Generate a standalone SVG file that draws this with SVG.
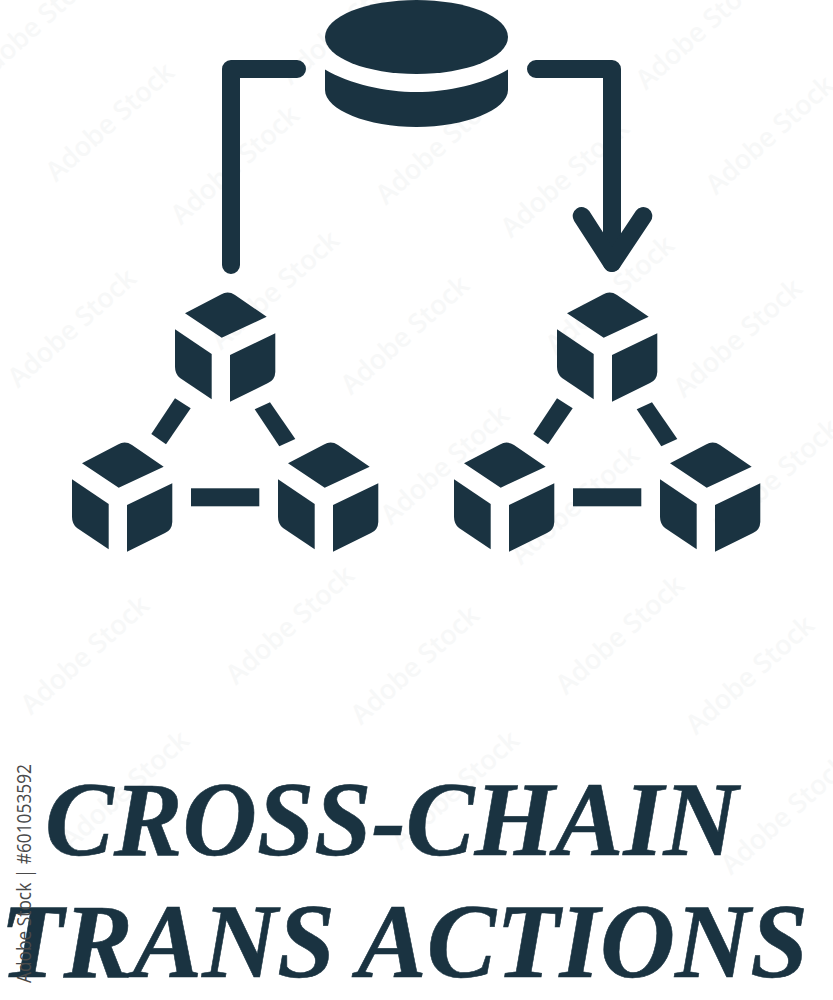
<svg xmlns="http://www.w3.org/2000/svg" width="833" height="1000" viewBox="0 0 833 1000">
  <style>
    .ink { fill: #1a3341; }
    .wire { fill: none; stroke: #1a3341; stroke-width: 18; stroke-linecap: round; stroke-linejoin: round; }
    .title { font-family: "Liberation Serif", "Times New Roman", serif; font-style: italic; font-weight: 700; font-size: 105px; fill: #1a3341; stroke: #1a3341; stroke-width: 0.6; }
    .credit { font-family: "Open Sans", "Noto Sans", sans-serif; font-size: 20px; fill: #4a4a4a; }
    .mark { font-family: "Open Sans", "Noto Sans", sans-serif; font-size: 27px; font-weight: 600; fill: #f7f8f8; text-anchor: middle; }
  </style>
  <defs>
    <text id="wm" class="mark" transform="rotate(-42)" y="9">Adobe Stock</text>
    <g id="cube" class="ink">
      <path d="M185 313.3 L221.7 337.7 L266.7 316.7 L235 295 Q228 290.5 221 294.5 Z"/>
      <path d="M175 329.3 L211.7 354 V399.3 L180 378 Q175 374 175 367 Z"/>
      <path d="M230 355 L275.3 333.3 V372 Q275 380 268 383 L230 401.7 Z"/>
    </g>
    <g id="chain">
      <use href="#cube"/>
      <use href="#cube" x="-103" y="150"/>
      <use href="#cube" x="103" y="150"/>
      <g class="ink">
        <polygon points="175,398.3 190.7,408.3 166,444.3 151.3,434"/>
        <polygon points="254.7,409.3 270,402.3 295.3,439 279.3,446.3"/>
        <rect x="191" y="488.3" width="68.3" height="18"/>
      </g>
    </g>
  </defs>
  <rect width="833" height="1000" fill="#ffffff"/>
  <g id="watermark">
    <use href="#wm" transform="translate(35 25)"/><use href="#wm" transform="translate(110 122)"/><use href="#wm" transform="translate(235 165)"/>
    <use href="#wm" transform="translate(345 25)"/><use href="#wm" transform="translate(440 145)"/><use href="#wm" transform="translate(565 178)"/>
    <use href="#wm" transform="translate(700 30)"/><use href="#wm" transform="translate(770 135)"/>
    <use href="#wm" transform="translate(72 328)"/><use href="#wm" transform="translate(275 290)"/><use href="#wm" transform="translate(405 335)"/>
    <use href="#wm" transform="translate(610 295)"/><use href="#wm" transform="translate(738 338)"/>
    <use href="#wm" transform="translate(445 465)"/><use href="#wm" transform="translate(575 505)"/><use href="#wm" transform="translate(775 478)"/>
    <use href="#wm" transform="translate(85 655)"/><use href="#wm" transform="translate(290 625)"/><use href="#wm" transform="translate(415 665)"/>
    <use href="#wm" transform="translate(620 635)"/><use href="#wm" transform="translate(750 675)"/>
    <use href="#wm" transform="translate(125 790)"/><use href="#wm" transform="translate(455 790)"/><use href="#wm" transform="translate(785 815)"/>
  </g>
  <g id="node-disk" class="ink">
    <ellipse cx="416.5" cy="37" rx="91.5" ry="37"/>
    <path d="M325 69.5 C350 84 385 92 416.5 92 C448 92 483 84 508 69.5 V90 C508 110 465 127 416.5 127 C368 127 325 110 325 90 Z"/>
  </g>
  <g id="connectors">
    <path class="wire" d="M297 69 H231 V265"/>
    <path class="wire" d="M536 69 H612 V263"/>
    <path class="wire" d="M581.7 216 L612 263 L643.3 216"/>
  </g>
  <g id="node-chain-left"><use href="#chain"/></g>
  <g id="node-chain-right"><use href="#chain" x="382"/></g>
  <g id="labels">
    <text class="title" x="45" y="855" textLength="693" lengthAdjust="spacingAndGlyphs">CROSS-CHAIN</text>
    <text class="title" x="0" y="977" textLength="808" lengthAdjust="spacingAndGlyphs">TRANS ACTIONS</text>
    <text class="credit" transform="translate(31 983) rotate(-90)" textLength="219" lengthAdjust="spacingAndGlyphs">Adobe Stock | #601053592</text>
  </g>
</svg>
